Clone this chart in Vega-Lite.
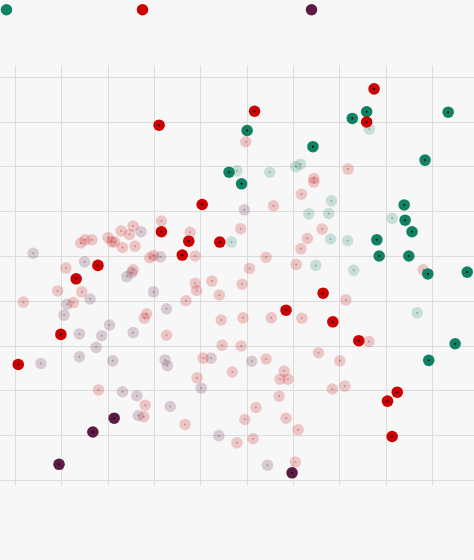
{
  "$schema": "https://vega.github.io/schema/vega-lite/v6.json",
  "width": 474,
  "height": 420,
  "autosize": {"type": "none"},
  "padding": {"left": 0, "right": 0, "top": 65, "bottom": 75},
  "background": "#f7f7f7",
  "config": {
    "view": {"stroke": null},
    "axis": {"grid": true, "gridColor": "#dcdcdc", "gridWidth": 1, "labels": false, "ticks": false, "domain": false, "title": null}
  },
  "data": {
    "values": [
      {"x": 50.1, "y": 78.0, "g": "setosa", "s": 1},
      {"x": 75.9, "y": 82.2, "g": "setosa", "s": 1},
      {"x": 72.8, "y": 80.7, "g": "setosa", "s": 1},
      {"x": 64.3, "y": 74.4, "g": "setosa", "s": 1},
      {"x": 46.2, "y": 68.7, "g": "setosa", "s": 1},
      {"x": 48.9, "y": 66.1, "g": "setosa", "s": 1},
      {"x": 93.5, "y": 82.1, "g": "setosa", "s": 1},
      {"x": 88.5, "y": 71.4, "g": "setosa", "s": 1},
      {"x": 84.0, "y": 61.4, "g": "setosa", "s": 1},
      {"x": 84.2, "y": 58.0, "g": "setosa", "s": 1},
      {"x": 85.7, "y": 55.4, "g": "setosa", "s": 1},
      {"x": 78.1, "y": 53.6, "g": "setosa", "s": 1},
      {"x": 78.6, "y": 50.0, "g": "setosa", "s": 1},
      {"x": 85.0, "y": 50.0, "g": "setosa", "s": 1},
      {"x": 89.1, "y": 46.0, "g": "setosa", "s": 1},
      {"x": 97.6, "y": 46.4, "g": "setosa", "s": 1},
      {"x": 95.0, "y": 30.4, "g": "setosa", "s": 1},
      {"x": 89.3, "y": 26.7, "g": "setosa", "s": 1},
      {"x": 77.5, "y": 87.3, "g": "versicolor", "s": 1},
      {"x": 51.7, "y": 82.3, "g": "versicolor", "s": 1},
      {"x": 75.9, "y": 79.9, "g": "versicolor", "s": 1},
      {"x": 31.1, "y": 79.2, "g": "versicolor", "s": 1},
      {"x": 40.4, "y": 61.5, "g": "versicolor", "s": 1},
      {"x": 31.6, "y": 55.4, "g": "versicolor", "s": 1},
      {"x": 37.5, "y": 53.3, "g": "versicolor", "s": 1},
      {"x": 44.2, "y": 53.1, "g": "versicolor", "s": 1},
      {"x": 36.1, "y": 50.2, "g": "versicolor", "s": 1},
      {"x": 17.9, "y": 47.9, "g": "versicolor", "s": 1},
      {"x": 13.2, "y": 44.9, "g": "versicolor", "s": 1},
      {"x": 66.5, "y": 41.7, "g": "versicolor", "s": 1},
      {"x": 58.5, "y": 37.9, "g": "versicolor", "s": 1},
      {"x": 68.6, "y": 35.3, "g": "versicolor", "s": 1},
      {"x": 74.2, "y": 31.1, "g": "versicolor", "s": 1},
      {"x": 9.9, "y": 32.5, "g": "versicolor", "s": 1},
      {"x": 0.7, "y": 25.8, "g": "versicolor", "s": 1},
      {"x": 82.5, "y": 19.6, "g": "versicolor", "s": 1},
      {"x": 80.4, "y": 17.6, "g": "versicolor", "s": 1},
      {"x": 81.4, "y": 9.7, "g": "versicolor", "s": 1},
      {"x": 16.8, "y": 10.7, "g": "virginica", "s": 1},
      {"x": 21.4, "y": 13.8, "g": "virginica", "s": 1},
      {"x": 9.5, "y": 3.5, "g": "virginica", "s": 1},
      {"x": 59.8, "y": 1.6, "g": "virginica", "s": 1},
      {"x": 76.5, "y": 78.3, "g": "setosa", "s": 0},
      {"x": 47.9, "y": 69.0, "g": "setosa", "s": 0},
      {"x": 55.0, "y": 68.7, "g": "setosa", "s": 0},
      {"x": 60.6, "y": 69.9, "g": "setosa", "s": 0},
      {"x": 61.6, "y": 70.5, "g": "setosa", "s": 0},
      {"x": 68.3, "y": 62.3, "g": "setosa", "s": 0},
      {"x": 63.4, "y": 59.4, "g": "setosa", "s": 0},
      {"x": 67.7, "y": 59.5, "g": "setosa", "s": 0},
      {"x": 81.4, "y": 58.4, "g": "setosa", "s": 0},
      {"x": 68.1, "y": 53.8, "g": "setosa", "s": 0},
      {"x": 71.8, "y": 53.4, "g": "setosa", "s": 0},
      {"x": 46.7, "y": 53.1, "g": "setosa", "s": 0},
      {"x": 64.9, "y": 47.9, "g": "setosa", "s": 0},
      {"x": 73.1, "y": 46.8, "g": "setosa", "s": 0},
      {"x": 86.8, "y": 37.3, "g": "setosa", "s": 0},
      {"x": 49.5, "y": 60.3, "g": "virginica", "s": 0},
      {"x": 27.2, "y": 55.4, "g": "virginica", "s": 0},
      {"x": 31.4, "y": 49.8, "g": "virginica", "s": 0},
      {"x": 15.0, "y": 48.7, "g": "virginica", "s": 0},
      {"x": 24.1, "y": 45.4, "g": "virginica", "s": 0},
      {"x": 25.2, "y": 46.3, "g": "virginica", "s": 0},
      {"x": 16.2, "y": 40.4, "g": "virginica", "s": 0},
      {"x": 11.2, "y": 39.2, "g": "virginica", "s": 0},
      {"x": 10.6, "y": 36.8, "g": "virginica", "s": 0},
      {"x": 29.9, "y": 42.0, "g": "virginica", "s": 0},
      {"x": 32.7, "y": 38.2, "g": "virginica", "s": 0},
      {"x": 20.4, "y": 34.6, "g": "virginica", "s": 0},
      {"x": 18.7, "y": 32.2, "g": "virginica", "s": 0},
      {"x": 25.5, "y": 32.9, "g": "virginica", "s": 0},
      {"x": 13.9, "y": 32.6, "g": "virginica", "s": 0},
      {"x": 17.5, "y": 29.6, "g": "virginica", "s": 0},
      {"x": 13.9, "y": 27.5, "g": "virginica", "s": 0},
      {"x": 21.1, "y": 26.6, "g": "virginica", "s": 0},
      {"x": 32.4, "y": 26.8, "g": "virginica", "s": 0},
      {"x": 32.9, "y": 25.5, "g": "virginica", "s": 0},
      {"x": 42.3, "y": 27.2, "g": "virginica", "s": 0},
      {"x": 51.1, "y": 26.5, "g": "virginica", "s": 0},
      {"x": 40.2, "y": 20.5, "g": "virginica", "s": 0},
      {"x": 23.2, "y": 19.7, "g": "virginica", "s": 0},
      {"x": 26.3, "y": 18.8, "g": "virginica", "s": 0},
      {"x": 26.6, "y": 14.4, "g": "virginica", "s": 0},
      {"x": 33.5, "y": 16.4, "g": "virginica", "s": 0},
      {"x": 44.0, "y": 9.9, "g": "virginica", "s": 0},
      {"x": 54.5, "y": 3.3, "g": "virginica", "s": 0},
      {"x": 3.9, "y": 50.6, "g": "virginica", "s": 0},
      {"x": 5.6, "y": 26.0, "g": "virginica", "s": 0},
      {"x": 49.8, "y": 75.5, "g": "versicolor", "s": 0},
      {"x": 64.5, "y": 67.3, "g": "versicolor", "s": 0},
      {"x": 64.5, "y": 66.5, "g": "versicolor", "s": 0},
      {"x": 71.9, "y": 69.4, "g": "versicolor", "s": 0},
      {"x": 61.8, "y": 63.8, "g": "versicolor", "s": 0},
      {"x": 55.8, "y": 61.2, "g": "versicolor", "s": 0},
      {"x": 48.7, "y": 56.1, "g": "versicolor", "s": 0},
      {"x": 66.3, "y": 56.0, "g": "versicolor", "s": 0},
      {"x": 63.1, "y": 53.9, "g": "versicolor", "s": 0},
      {"x": 61.7, "y": 51.6, "g": "versicolor", "s": 0},
      {"x": 54.2, "y": 49.7, "g": "versicolor", "s": 0},
      {"x": 60.7, "y": 48.1, "g": "versicolor", "s": 0},
      {"x": 50.6, "y": 47.2, "g": "versicolor", "s": 0},
      {"x": 37.8, "y": 55.3, "g": "versicolor", "s": 0},
      {"x": 38.9, "y": 50.0, "g": "versicolor", "s": 0},
      {"x": 31.6, "y": 57.8, "g": "versicolor", "s": 0},
      {"x": 14.2, "y": 52.9, "g": "versicolor", "s": 0},
      {"x": 15.1, "y": 53.6, "g": "versicolor", "s": 0},
      {"x": 16.6, "y": 53.6, "g": "versicolor", "s": 0},
      {"x": 20.1, "y": 54.1, "g": "versicolor", "s": 0},
      {"x": 20.9, "y": 53.2, "g": "versicolor", "s": 0},
      {"x": 21.5, "y": 53.1, "g": "versicolor", "s": 0},
      {"x": 22.9, "y": 55.6, "g": "versicolor", "s": 0},
      {"x": 23.2, "y": 51.9, "g": "versicolor", "s": 0},
      {"x": 24.7, "y": 54.8, "g": "versicolor", "s": 0},
      {"x": 25.5, "y": 56.7, "g": "versicolor", "s": 0},
      {"x": 25.9, "y": 52.2, "g": "versicolor", "s": 0},
      {"x": 29.1, "y": 49.6, "g": "versicolor", "s": 0},
      {"x": 29.9, "y": 50.1, "g": "versicolor", "s": 0},
      {"x": 11.0, "y": 47.3, "g": "versicolor", "s": 0},
      {"x": 14.4, "y": 42.0, "g": "versicolor", "s": 0},
      {"x": 9.2, "y": 42.2, "g": "versicolor", "s": 0},
      {"x": 25.5, "y": 46.9, "g": "versicolor", "s": 0},
      {"x": 12.6, "y": 39.6, "g": "versicolor", "s": 0},
      {"x": 36.9, "y": 40.0, "g": "versicolor", "s": 0},
      {"x": 38.9, "y": 43.9, "g": "versicolor", "s": 0},
      {"x": 39.2, "y": 42.3, "g": "versicolor", "s": 0},
      {"x": 42.5, "y": 44.4, "g": "versicolor", "s": 0},
      {"x": 44.1, "y": 41.3, "g": "versicolor", "s": 0},
      {"x": 27.9, "y": 36.1, "g": "versicolor", "s": 0},
      {"x": 28.4, "y": 37.1, "g": "versicolor", "s": 0},
      {"x": 32.7, "y": 32.3, "g": "versicolor", "s": 0},
      {"x": 40.6, "y": 27.2, "g": "versicolor", "s": 0},
      {"x": 44.7, "y": 30.1, "g": "versicolor", "s": 0},
      {"x": 48.8, "y": 29.9, "g": "versicolor", "s": 0},
      {"x": 46.9, "y": 24.1, "g": "versicolor", "s": 0},
      {"x": 39.3, "y": 22.8, "g": "versicolor", "s": 0},
      {"x": 18.0, "y": 20.1, "g": "versicolor", "s": 0},
      {"x": 28.1, "y": 16.7, "g": "versicolor", "s": 0},
      {"x": 27.8, "y": 14.1, "g": "versicolor", "s": 0},
      {"x": 36.7, "y": 12.4, "g": "versicolor", "s": 0},
      {"x": 47.9, "y": 8.3, "g": "versicolor", "s": 0},
      {"x": 51.4, "y": 9.2, "g": "versicolor", "s": 0},
      {"x": 52.0, "y": 16.2, "g": "versicolor", "s": 0},
      {"x": 49.6, "y": 13.5, "g": "versicolor", "s": 0},
      {"x": 58.5, "y": 13.8, "g": "versicolor", "s": 0},
      {"x": 61.1, "y": 11.2, "g": "versicolor", "s": 0},
      {"x": 60.5, "y": 4.0, "g": "versicolor", "s": 0},
      {"x": 61.9, "y": 36.1, "g": "versicolor", "s": 0},
      {"x": 71.4, "y": 40.2, "g": "versicolor", "s": 0},
      {"x": 76.4, "y": 30.9, "g": "versicolor", "s": 0},
      {"x": 65.5, "y": 28.4, "g": "versicolor", "s": 0},
      {"x": 70.1, "y": 26.6, "g": "versicolor", "s": 0},
      {"x": 68.5, "y": 20.3, "g": "versicolor", "s": 0},
      {"x": 71.2, "y": 21.0, "g": "versicolor", "s": 0},
      {"x": 1.8, "y": 39.7, "g": "versicolor", "s": 0},
      {"x": 49.0, "y": 43.7, "g": "versicolor", "s": 0},
      {"x": 55.3, "y": 36.2, "g": "versicolor", "s": 0},
      {"x": 49.2, "y": 36.2, "g": "versicolor", "s": 0},
      {"x": 54.2, "y": 27.0, "g": "versicolor", "s": 0},
      {"x": 58.1, "y": 24.3, "g": "versicolor", "s": 0},
      {"x": 57.2, "y": 22.5, "g": "versicolor", "s": 0},
      {"x": 58.9, "y": 22.5, "g": "versicolor", "s": 0},
      {"x": 57.0, "y": 18.7, "g": "versicolor", "s": 0},
      {"x": 88.1, "y": 46.9, "g": "versicolor", "s": 0},
      {"x": 44.5, "y": 35.7, "g": "versicolor", "s": 0}
    ]
  },
  "encoding": {
    "x": {"field": "x", "type": "quantitative", "scale": {"domain": [-3.24, 99.07], "nice": false, "zero": false},
          "axis": {"values": [0, 10, 20, 30, 40, 50, 60, 70, 80, 90]}},
    "y": {"field": "y", "type": "quantitative", "scale": {"domain": [-1.12, 92.63], "nice": false, "zero": false},
          "axis": {"values": [0, 10, 20, 30, 40, 50, 60, 70, 80, 90]}}
  },
  "layer": [
    {
      "transform": [{"filter": "datum.s == 0"}],
      "mark": {"type": "circle", "size": 133, "opacity": 0.2},
      "encoding": {
        "color": {"field": "g", "type": "nominal",
          "scale": {"domain": ["setosa", "versicolor", "virginica"], "range": ["#0f8264", "#cc0000", "#5c1a45"]},
          "legend": {"orient": "none", "legendX": -6, "legendY": -68, "direction": "horizontal", "columns": 3,
            "title": null, "symbolType": "circle", "symbolSize": 133, "symbolOpacity": 1, "symbolStrokeWidth": 0,
            "labelFont": "Liberation Sans", "labelFontSize": 25, "labelOpacity": 0, "labelOffset": 4,
            "labelBaseline": "top", "columnPadding": 33, "padding": 0}}
      }
    },
    {
      "transform": [{"filter": "datum.s == 0"}],
      "mark": {"type": "circle", "size": 4, "color": "#000000", "opacity": 0.25}
    },
    {
      "transform": [{"filter": "datum.s == 1"}],
      "mark": {"type": "circle", "size": 133, "opacity": 1},
      "encoding": {
        "color": {"field": "g", "type": "nominal",
          "scale": {"domain": ["setosa", "versicolor", "virginica"], "range": ["#0f8264", "#cc0000", "#5c1a45"]}}
      }
    },
    {
      "transform": [{"filter": "datum.s == 1"}],
      "mark": {"type": "circle", "size": 4, "color": "#000000", "opacity": 1}
    }
  ]
}
